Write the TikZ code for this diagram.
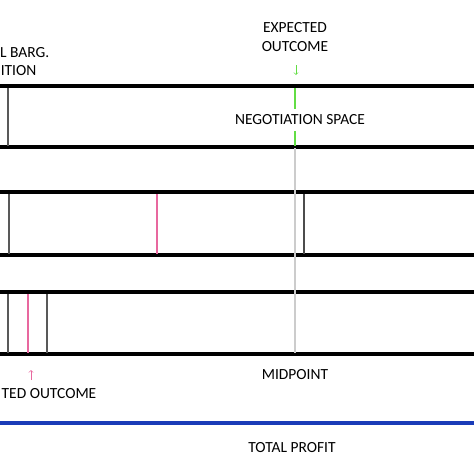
\documentclass[tikz,border=0pt]{standalone}
\usepackage{fontspec}
\setmainfont{Carlito}
\definecolor{expgreen}{HTML}{62DD44}
\definecolor{outpink}{HTML}{E8689F}
\definecolor{profblue}{HTML}{1A3CB8}
\begin{document}
\begin{tikzpicture}[x=0.25mm, y=-0.25mm, every node/.style={font=\fontsize{11}{13}\selectfont, inner sep=1pt}]
\useasboundingbox (0,0) rectangle (474,474);
% bars
\foreach \y in {86,147,192,255,292,354} {
  \draw[line width=2.2pt] (0,\y) -- (474,\y);
}
% midpoint line
\draw[line width=1.6pt, gray!40] (295,148) -- (295,353);
\draw[line width=1.6pt, expgreen] (295,88) -- (295,146);
\node[fill=white, inner ysep=4.5pt] (negspace) at (300,120) {NEGOTIATION SPACE};
% markers
\foreach \x/\ya/\yb/\c in {8/88/146/black!65, 9/194/254/black!65, 157/194/254/outpink, 304/194/254/black!70, 8/294/353/black!65, 28/294/353/outpink, 47/294/353/black!65} {
  \draw[line width=1.4pt, \c] (\x,\ya) -- (\x,\yb);
}
% labels
\node[align=center] (expected) at (295,37) {EXPECTED\\OUTCOME};
\node[anchor=east] (initbarg) at (51,53) {L BARG.};
\node[anchor=east] (initpos) at (38,71) {ITION};
\node[anchor=east] (lowout) at (98,394) {TED OUTCOME};
\node (midpoint) at (295,375) {MIDPOINT};
\node (totprofit) at (292,448) {TOTAL PROFIT};
% arrows
\coordinate (gtail) at (296,65);
\coordinate (gtip) at (296,75);
\draw[->, thin, expgreen] (gtail) -- (gtip);
\coordinate (ptail) at (31,380);
\coordinate (ptip) at (31,370);
\draw[->, thin, outpink] (ptail) -- (ptip);
% total profit line
\draw[line width=2.2pt, profblue] (0,423) -- (474,423);
\end{tikzpicture}
\end{document}
